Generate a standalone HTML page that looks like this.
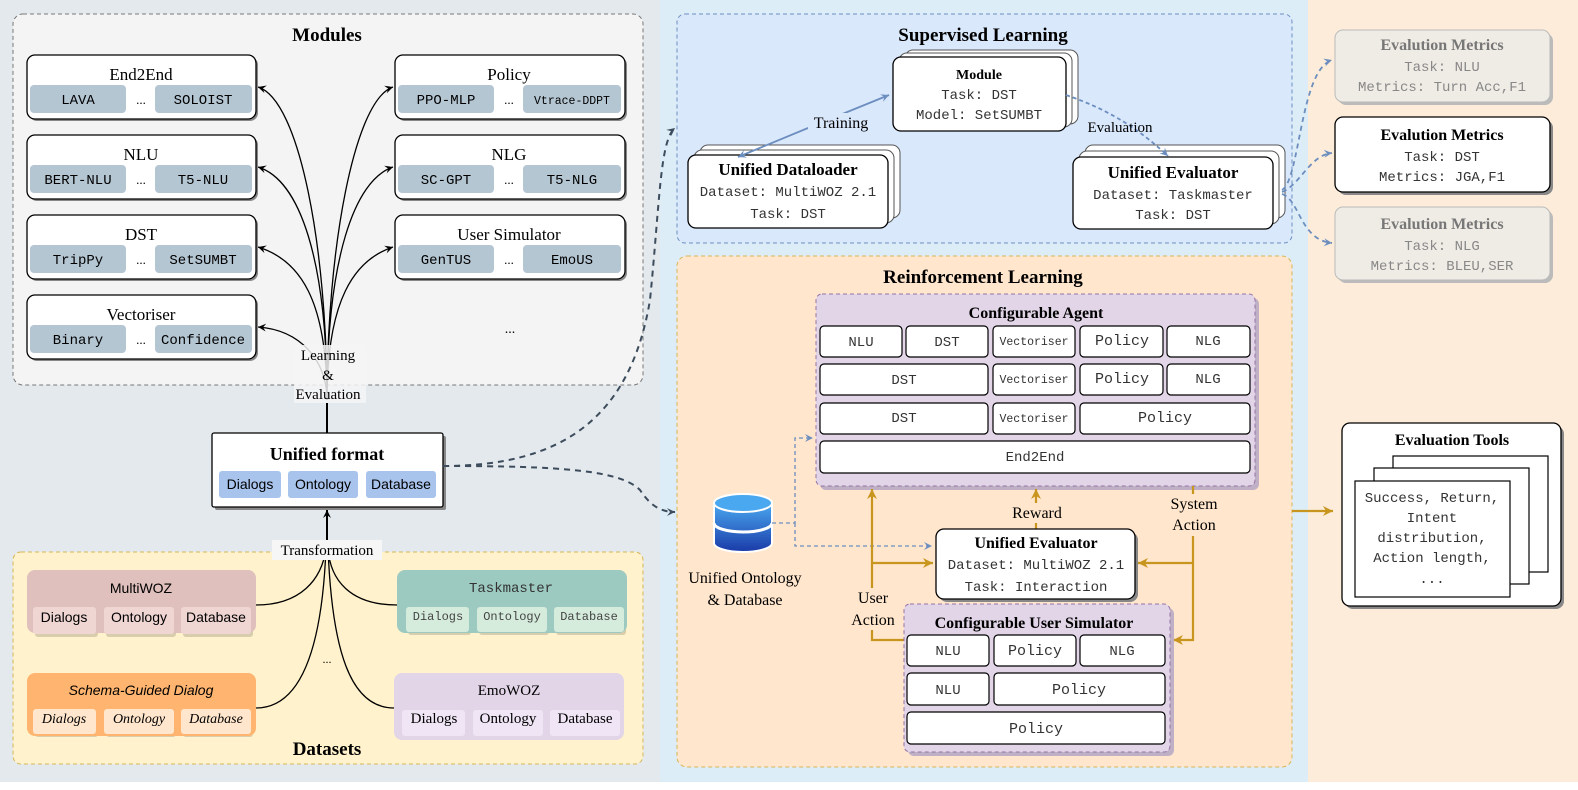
<!DOCTYPE html>
<html><head><meta charset="utf-8">
<style>
html,body{margin:0;padding:0;background:#fff}
svg{display:block}
.s{font-family:"Liberation Serif",serif}
.b{font-weight:bold}
.m{font-family:"Liberation Mono",monospace}
.a{font-family:"Liberation Sans",sans-serif}
</style></head><body>
<svg width="1578" height="790" viewBox="0 0 1578 790" xmlns="http://www.w3.org/2000/svg">
<defs>
<marker id="ak" markerWidth="10" markerHeight="10" refX="8" refY="5" orient="auto" markerUnits="userSpaceOnUse"><path d="M0,1 L8,5 L0,9 L3,5 Z" fill="#000"/></marker>
<marker id="ab" markerWidth="10" markerHeight="10" refX="8" refY="5" orient="auto" markerUnits="userSpaceOnUse"><path d="M0,1 L8,5 L0,9 L3,5 Z" fill="#6c8ebf"/></marker>
<marker id="ag" markerWidth="12" markerHeight="12" refX="10" refY="6" orient="auto" markerUnits="userSpaceOnUse"><path d="M0,1 L10,6 L0,11 L3,6 Z" fill="#c8961e"/></marker>
<marker id="ad" markerWidth="10" markerHeight="10" refX="8" refY="5" orient="auto" markerUnits="userSpaceOnUse"><path d="M0,1 L8,5 L0,9 L3,5 Z" fill="#3c4c5c"/></marker>
<linearGradient id="cy" x1="0" y1="0" x2="0" y2="1"><stop offset="0" stop-color="#4aa8f0"/><stop offset="1" stop-color="#1a3aa8"/></linearGradient>
</defs>
<rect x="0" y="0" width="660" height="782" fill="#e4e9ed"/>
<rect x="660" y="0" width="648" height="782" fill="#ddedf7"/>
<rect x="1308" y="0" width="270" height="782" fill="#fcecd9"/>

<rect x="13" y="14" width="630" height="371" rx="10" fill="#f4f4f4" stroke="#777" stroke-dasharray="4,3"/>
<text x="327" y="41" class="s b" font-size="19" text-anchor="middle">Modules</text>
<g stroke="#000" stroke-width="1.3" fill="none" marker-end="url(#ak)">
<path d="M327,400 C327,250 300,100 258,87"/>
<path d="M327,400 C327,260 300,180 258,167"/>
<path d="M327,400 C327,300 300,260 258,247"/>
<path d="M327,400 C327,360 300,330 258,327"/>
<path d="M327,400 C327,250 354,100 393,87"/>
<path d="M327,400 C327,260 354,180 393,167"/>
<path d="M327,400 C327,300 354,260 393,247"/>
</g>
<g>
<rect x="29" y="57" width="229" height="64" rx="8" fill="#888"/>
<rect x="27" y="55" width="229" height="64" rx="8" fill="#fff" stroke="#000" stroke-width="1.3"/>
<text x="141" y="80" class="s" font-size="17" text-anchor="middle">End2End</text>
<rect x="30" y="85" width="96" height="28" rx="4" fill="#b5c6d3"/><text x="78" y="104" class="m" font-size="14" text-anchor="middle">LAVA</text>
<text x="141" y="104" class="s" font-size="13" text-anchor="middle">...</text>
<rect x="155" y="85" width="97" height="28" rx="4" fill="#b5c6d3"/><text x="203" y="104" class="m" font-size="14" text-anchor="middle">SOLOIST</text>
</g>
<g>
<rect x="29" y="137" width="229" height="64" rx="8" fill="#888"/>
<rect x="27" y="135" width="229" height="64" rx="8" fill="#fff" stroke="#000" stroke-width="1.3"/>
<text x="141" y="160" class="s" font-size="17" text-anchor="middle">NLU</text>
<rect x="30" y="165" width="96" height="28" rx="4" fill="#b5c6d3"/><text x="78" y="184" class="m" font-size="14" text-anchor="middle">BERT-NLU</text>
<text x="141" y="184" class="s" font-size="13" text-anchor="middle">...</text>
<rect x="155" y="165" width="97" height="28" rx="4" fill="#b5c6d3"/><text x="203" y="184" class="m" font-size="14" text-anchor="middle">T5-NLU</text>
</g>
<g>
<rect x="29" y="217" width="229" height="64" rx="8" fill="#888"/>
<rect x="27" y="215" width="229" height="64" rx="8" fill="#fff" stroke="#000" stroke-width="1.3"/>
<text x="141" y="240" class="s" font-size="17" text-anchor="middle">DST</text>
<rect x="30" y="245" width="96" height="28" rx="4" fill="#b5c6d3"/><text x="78" y="264" class="m" font-size="14" text-anchor="middle">TripPy</text>
<text x="141" y="264" class="s" font-size="13" text-anchor="middle">...</text>
<rect x="155" y="245" width="97" height="28" rx="4" fill="#b5c6d3"/><text x="203" y="264" class="m" font-size="14" text-anchor="middle">SetSUMBT</text>
</g>
<g>
<rect x="29" y="297" width="229" height="64" rx="8" fill="#888"/>
<rect x="27" y="295" width="229" height="64" rx="8" fill="#fff" stroke="#000" stroke-width="1.3"/>
<text x="141" y="320" class="s" font-size="17" text-anchor="middle">Vectoriser</text>
<rect x="30" y="325" width="96" height="28" rx="4" fill="#b5c6d3"/><text x="78" y="344" class="m" font-size="14" text-anchor="middle">Binary</text>
<text x="141" y="344" class="s" font-size="13" text-anchor="middle">...</text>
<rect x="155" y="325" width="97" height="28" rx="4" fill="#b5c6d3"/><text x="203" y="344" class="m" font-size="14" text-anchor="middle">Confidence</text>
</g>
<g>
<rect x="397" y="57" width="230" height="64" rx="8" fill="#888"/>
<rect x="395" y="55" width="230" height="64" rx="8" fill="#fff" stroke="#000" stroke-width="1.3"/>
<text x="509" y="80" class="s" font-size="17" text-anchor="middle">Policy</text>
<rect x="398" y="85" width="96" height="28" rx="4" fill="#b5c6d3"/><text x="446" y="104" class="m" font-size="14" text-anchor="middle">PPO-MLP</text>
<text x="509" y="104" class="s" font-size="13" text-anchor="middle">...</text>
<rect x="523" y="85" width="98" height="28" rx="4" fill="#b5c6d3"/><text x="572" y="104" class="m" font-size="11.5" text-anchor="middle">Vtrace-DDPT</text>
</g>
<g>
<rect x="397" y="137" width="230" height="64" rx="8" fill="#888"/>
<rect x="395" y="135" width="230" height="64" rx="8" fill="#fff" stroke="#000" stroke-width="1.3"/>
<text x="509" y="160" class="s" font-size="17" text-anchor="middle">NLG</text>
<rect x="398" y="165" width="96" height="28" rx="4" fill="#b5c6d3"/><text x="446" y="184" class="m" font-size="14" text-anchor="middle">SC-GPT</text>
<text x="509" y="184" class="s" font-size="13" text-anchor="middle">...</text>
<rect x="523" y="165" width="98" height="28" rx="4" fill="#b5c6d3"/><text x="572" y="184" class="m" font-size="14" text-anchor="middle">T5-NLG</text>
</g>
<g>
<rect x="397" y="217" width="230" height="64" rx="8" fill="#888"/>
<rect x="395" y="215" width="230" height="64" rx="8" fill="#fff" stroke="#000" stroke-width="1.3"/>
<text x="509" y="240" class="s" font-size="17" text-anchor="middle">User Simulator</text>
<rect x="398" y="245" width="96" height="28" rx="4" fill="#b5c6d3"/><text x="446" y="264" class="m" font-size="14" text-anchor="middle">GenTUS</text>
<text x="509" y="264" class="s" font-size="13" text-anchor="middle">...</text>
<rect x="523" y="245" width="98" height="28" rx="4" fill="#b5c6d3"/><text x="572" y="264" class="m" font-size="14" text-anchor="middle">EmoUS</text>
</g>
<text x="510" y="333" class="s" font-size="14" text-anchor="middle">...</text>
<rect x="294" y="345" width="72" height="58" fill="#f5f5f5" opacity="0.85"/>
<text x="328" y="360" class="s" font-size="15" text-anchor="middle">Learning</text>
<text x="328" y="380" class="s" font-size="15" text-anchor="middle">&amp;</text>
<text x="328" y="399" class="s" font-size="15" text-anchor="middle">Evaluation</text>
<line x1="327" y1="403" x2="327" y2="433" stroke="#000" stroke-width="2"/>

<rect x="215" y="436" width="231" height="74" rx="2" fill="#888"/>
<rect x="212" y="433" width="231" height="74" rx="2" fill="#fff" stroke="#000" stroke-width="1.3"/>
<text x="327" y="460" class="s b" font-size="18" text-anchor="middle">Unified format</text>
<rect x="219" y="471" width="62" height="27" rx="3" fill="#a9c4ec"/><text x="250" y="489" class="a" font-size="14" text-anchor="middle">Dialogs</text>
<rect x="288" y="471" width="70" height="27" rx="3" fill="#a9c4ec"/><text x="323" y="489" class="a" font-size="14" text-anchor="middle">Ontology</text>
<rect x="366" y="471" width="70" height="27" rx="3" fill="#a9c4ec"/><text x="401" y="489" class="a" font-size="14" text-anchor="middle">Database</text>

<rect x="13" y="552" width="630" height="212" rx="8" fill="#fff2cc" stroke="#d6b656" stroke-dasharray="4,3"/>
<g stroke="#000" stroke-width="1.3" fill="none">
<line x1="327" y1="548" x2="327" y2="510" stroke-width="2" marker-end="url(#ak)"/>
<path d="M256,605 C300,605 322,580 326,548"/>
<path d="M397,605 C350,605 330,580 328,548"/>
<path d="M256,708 C300,708 322,650 326,548"/>
<path d="M394,708 C350,708 332,650 328,548"/>
</g>
<rect x="272" y="540" width="110" height="20" fill="#f6f6f6"/>
<text x="327" y="555" class="s" font-size="15" text-anchor="middle">Transformation</text>
<text x="327" y="663" class="s" font-size="12" text-anchor="middle">...</text>
<text x="327" y="755" class="s b" font-size="19" text-anchor="middle">Datasets</text>
<g fill="#000" opacity=".15">
<rect x="35" y="610" width="63" height="27" rx="3"/><rect x="106" y="610" width="70" height="27" rx="3"/><rect x="183" y="610" width="70" height="27" rx="3"/>
<rect x="35" y="712" width="63" height="25" rx="3"/><rect x="106" y="712" width="70" height="25" rx="3"/><rect x="183" y="712" width="70" height="25" rx="3"/>
<rect x="408" y="610" width="63" height="25" rx="3"/><rect x="479" y="610" width="70" height="25" rx="3"/><rect x="556" y="610" width="70" height="25" rx="3"/>
<rect x="404" y="713" width="63" height="26" rx="3"/><rect x="475" y="713" width="70" height="26" rx="3"/><rect x="552" y="713" width="70" height="26" rx="3"/>
</g>
<rect x="27" y="570" width="229" height="63" rx="8" fill="#dfc0bd"/>
<text x="141" y="593" class="a" font-size="14" text-anchor="middle">MultiWOZ</text>
<rect x="33" y="607" width="63" height="27" rx="3" fill="#f0d6d3"/><text x="64" y="622" class="a" font-size="14" text-anchor="middle">Dialogs</text>
<rect x="104" y="607" width="70" height="27" rx="3" fill="#f0d6d3"/><text x="139" y="622" class="a" font-size="14" text-anchor="middle">Ontology</text>
<rect x="181" y="607" width="70" height="27" rx="3" fill="#f0d6d3"/><text x="216" y="622" class="a" font-size="14" text-anchor="middle">Database</text>
<rect x="397" y="570" width="230" height="63" rx="8" fill="#9dcac0"/>
<text x="511" y="592" class="m" font-size="14" fill="#333" text-anchor="middle">Taskmaster</text>
<rect x="406" y="607" width="63" height="25" rx="3" fill="#d5ebdc"/><text x="438" y="620" class="m" font-size="12" fill="#444" text-anchor="middle">Dialogs</text>
<rect x="477" y="607" width="70" height="25" rx="3" fill="#d5ebdc"/><text x="512" y="620" class="m" font-size="12" fill="#444" text-anchor="middle">Ontology</text>
<rect x="554" y="607" width="70" height="25" rx="3" fill="#d5ebdc"/><text x="589" y="620" class="m" font-size="12" fill="#444" text-anchor="middle">Database</text>
<rect x="27" y="673" width="229" height="63" rx="8" fill="#ffb570"/>
<text x="141" y="695" class="a" font-size="14" font-style="italic" text-anchor="middle">Schema-Guided Dialog</text>
<rect x="33" y="709" width="63" height="25" rx="3" fill="#ffe6cc"/><text x="64" y="723" class="s" font-size="14" font-style="italic" text-anchor="middle">Dialogs</text>
<rect x="104" y="709" width="70" height="25" rx="3" fill="#ffe6cc"/><text x="139" y="723" class="s" font-size="14" font-style="italic" text-anchor="middle">Ontology</text>
<rect x="181" y="709" width="70" height="25" rx="3" fill="#ffe6cc"/><text x="216" y="723" class="s" font-size="14" font-style="italic" text-anchor="middle">Database</text>
<rect x="394" y="673" width="230" height="67" rx="8" fill="#e1d5e7"/>
<text x="509" y="695" class="s" font-size="15" text-anchor="middle">EmoWOZ</text>
<rect x="402" y="710" width="63" height="26" rx="3" fill="#efe5f5"/><text x="434" y="723" class="s" font-size="15" text-anchor="middle">Dialogs</text>
<rect x="473" y="710" width="70" height="26" rx="3" fill="#efe5f5"/><text x="508" y="723" class="s" font-size="15" text-anchor="middle">Ontology</text>
<rect x="550" y="710" width="70" height="26" rx="3" fill="#efe5f5"/><text x="585" y="723" class="s" font-size="15" text-anchor="middle">Database</text>

<g stroke="#3c4c5c" stroke-width="2" fill="none" stroke-dasharray="6,5">
<path d="M443,466 C560,466 630,420 650,300 C660,200 660,140 675,128" marker-end="url(#ad)"/>
<path d="M443,466 C560,466 620,470 640,490 C650,505 660,512 675,512" marker-end="url(#ad)"/>
</g>

<rect x="677" y="14" width="615" height="229" rx="8" fill="#dae8fc" stroke="#6c8ebf" stroke-dasharray="4,3"/>
<text x="983" y="41" class="s b" font-size="19" text-anchor="middle">Supervised Learning</text>
<g fill="#fff" stroke="#555">
<rect x="905" y="50" width="173" height="74" rx="8"/>
<rect x="899" y="53" width="173" height="74" rx="8"/>
<rect x="700" y="145" width="200" height="73" rx="8"/>
<rect x="694" y="150" width="200" height="73" rx="8"/>
<rect x="1085" y="145" width="200" height="73" rx="8"/>
<rect x="1079" y="151" width="200" height="73" rx="8"/>
</g>
<rect x="893" y="57" width="173" height="74" rx="8" fill="#fff" stroke="#000" stroke-width="1.3"/>
<text x="979" y="79" class="s b" font-size="14" text-anchor="middle">Module</text>
<text x="979" y="99" class="m" font-size="14" fill="#333" text-anchor="middle">Task: DST</text>
<text x="979" y="119" class="m" font-size="14" fill="#333" text-anchor="middle">Model: SetSUMBT</text>
<rect x="688" y="155" width="200" height="73" rx="8" fill="#fff" stroke="#000" stroke-width="1.3"/>
<text x="788" y="175" class="s b" font-size="17" text-anchor="middle">Unified Dataloader</text>
<text x="788" y="196" class="m" font-size="14" fill="#333" text-anchor="middle">Dataset: MultiWOZ 2.1</text>
<text x="788" y="218" class="m" font-size="14" fill="#333" text-anchor="middle">Task: DST</text>
<rect x="1073" y="157" width="200" height="72" rx="8" fill="#fff" stroke="#000" stroke-width="1.3"/>
<text x="1173" y="178" class="s b" font-size="17" text-anchor="middle">Unified Evaluator</text>
<text x="1173" y="199" class="m" font-size="14" fill="#333" text-anchor="middle">Dataset: Taskmaster</text>
<text x="1173" y="219" class="m" font-size="14" fill="#333" text-anchor="middle">Task: DST</text>
<g stroke="#6c8ebf" stroke-width="1.8" fill="none">
<line x1="808" y1="128" x2="889" y2="95" marker-end="url(#ab)"/>
<line x1="808" y1="128" x2="738" y2="157" marker-end="url(#ab)"/>
<path d="M1066,95 C1110,110 1140,130 1168,156" stroke-dasharray="4,3" marker-end="url(#ab)"/>
<path d="M1282,190 C1300,180 1300,70 1332,60" stroke-dasharray="5,4" marker-end="url(#ab)"/>
<path d="M1282,192 C1300,185 1310,155 1332,153" stroke-dasharray="5,4" marker-end="url(#ab)"/>
<path d="M1282,194 C1300,200 1300,240 1332,243" stroke-dasharray="5,4" marker-end="url(#ab)"/>
</g>
<rect x="808" y="113" width="66" height="20" fill="#dae8fc"/>
<text x="841" y="128" class="s" font-size="16" text-anchor="middle">Training</text>
<text x="1120" y="132" class="s" font-size="15" text-anchor="middle">Evaluation</text>

<rect x="677" y="256" width="615" height="511" rx="10" fill="#ffe6cc" stroke="#d6b656" stroke-dasharray="4,3"/>
<text x="983" y="283" class="s b" font-size="19" text-anchor="middle">Reinforcement Learning</text>
<rect x="820" y="298" width="439" height="192" rx="6" fill="#bfb0c5"/>
<rect x="816" y="294" width="439" height="192" rx="6" fill="#e1d5e7" stroke="#9673a6" stroke-dasharray="4,3"/>
<text x="1036" y="318" class="s b" font-size="16" text-anchor="middle">Configurable Agent</text>
<g fill="#fff" stroke="#000" stroke-width="1.2">
<rect x="820" y="326" width="82" height="31" rx="4"/><rect x="906" y="326" width="82" height="31" rx="4"/><rect x="993" y="326" width="82" height="31" rx="4"/><rect x="1080" y="326" width="83" height="31" rx="4"/><rect x="1167" y="326" width="83" height="31" rx="4"/>
<rect x="820" y="364" width="168" height="31" rx="4"/><rect x="993" y="364" width="82" height="31" rx="4"/><rect x="1080" y="364" width="83" height="31" rx="4"/><rect x="1167" y="364" width="83" height="31" rx="4"/>
<rect x="820" y="403" width="168" height="31" rx="4"/><rect x="993" y="403" width="82" height="31" rx="4"/><rect x="1080" y="403" width="170" height="31" rx="4"/>
<rect x="820" y="441" width="430" height="32" rx="4"/>
</g>
<g class="m" font-size="14" fill="#333" text-anchor="middle">
<text x="861" y="346">NLU</text><text x="947" y="346">DST</text><text x="1034" y="345" font-size="11.5">Vectoriser</text><text x="1122" y="345" font-size="15">Policy</text><text x="1208" y="345">NLG</text>
<text x="904" y="384">DST</text><text x="1034" y="383" font-size="11.5">Vectoriser</text><text x="1122" y="383" font-size="15">Policy</text><text x="1208" y="383">NLG</text>
<text x="904" y="422">DST</text><text x="1034" y="422" font-size="11.5">Vectoriser</text><text x="1165" y="422" font-size="15">Policy</text>
<text x="1035" y="461">End2End</text>
</g>
<g>
<path d="M714,503 v40 a29,9 0 0 0 58,0 v-40" fill="url(#cy)" stroke="#fff" stroke-width="2"/>
<path d="M714,523 a29,9 0 0 0 58,0" fill="none" stroke="#fff" stroke-width="3"/>
<ellipse cx="743" cy="503" rx="29" ry="9" fill="#4aa8f0" stroke="#fff" stroke-width="2"/>
</g>
<text x="745" y="583" class="s" font-size="16" text-anchor="middle">Unified Ontology</text>
<text x="745" y="605" class="s" font-size="16" text-anchor="middle">&amp; Database</text>
<g stroke="#6c8ebf" stroke-width="1.3" fill="none" stroke-dasharray="4,3">
<path d="M772,523 H795 V438 H813" marker-end="url(#ab)"/>
<path d="M795,523 V546 H932" marker-end="url(#ab)"/>
</g>
<g stroke="#c8961e" stroke-width="2.2" fill="none">
<path d="M904,640 H872 V489" marker-end="url(#ag)"/>
<path d="M872,563 H933" marker-end="url(#ag)"/>
<path d="M1036,529 V489" marker-end="url(#ag)"/>
<path d="M1193,486 V640 H1173" marker-end="url(#ag)"/>
<path d="M1193,563 H1138" marker-end="url(#ag)"/>
<path d="M1292,511 H1333" marker-end="url(#ag)"/>
</g>
<rect x="1010" y="503" width="54" height="20" fill="#ffe6cc"/>
<text x="1037" y="518" class="s" font-size="16" text-anchor="middle">Reward</text>
<rect x="1165" y="494" width="58" height="42" fill="#ffe6cc"/>
<text x="1194" y="509" class="s" font-size="16" text-anchor="middle">System</text>
<text x="1194" y="530" class="s" font-size="16" text-anchor="middle">Action</text>
<rect x="846" y="588" width="52" height="42" fill="#ffe6cc"/>
<text x="873" y="603" class="s" font-size="16" text-anchor="middle">User</text>
<text x="873" y="625" class="s" font-size="16" text-anchor="middle">Action</text>
<rect x="939" y="532" width="199" height="70" rx="8" fill="#888"/>
<rect x="936" y="529" width="199" height="70" rx="8" fill="#fff" stroke="#000" stroke-width="1.3"/>
<text x="1036" y="548" class="s b" font-size="16" text-anchor="middle">Unified Evaluator</text>
<text x="1036" y="569" class="m" font-size="14" fill="#333" text-anchor="middle">Dataset: MultiWOZ 2.1</text>
<text x="1036" y="591" class="m" font-size="14" fill="#333" text-anchor="middle">Task: Interaction</text>
<rect x="908" y="608" width="266" height="148" rx="6" fill="#bfb0c5"/>
<rect x="904" y="604" width="266" height="148" rx="6" fill="#e1d5e7" stroke="#9673a6" stroke-dasharray="4,3"/>
<text x="1034" y="628" class="s b" font-size="16" text-anchor="middle">Configurable User Simulator</text>
<g fill="#fff" stroke="#000" stroke-width="1.2">
<rect x="907" y="635" width="82" height="31" rx="4"/><rect x="994" y="635" width="82" height="31" rx="4"/><rect x="1080" y="635" width="85" height="31" rx="4"/>
<rect x="907" y="673" width="82" height="32" rx="4"/><rect x="994" y="673" width="171" height="32" rx="4"/>
<rect x="907" y="712" width="258" height="32" rx="4"/>
</g>
<g class="m" font-size="14" fill="#333" text-anchor="middle">
<text x="948" y="655">NLU</text><text x="1035" y="655" font-size="15">Policy</text><text x="1122" y="655">NLG</text>
<text x="948" y="694">NLU</text><text x="1079" y="694" font-size="15">Policy</text>
<text x="1036" y="733" font-size="15">Policy</text>
</g>

<rect x="1338" y="33" width="215" height="72" rx="8" fill="#bbb"/>
<rect x="1335" y="30" width="215" height="72" rx="8" fill="#efebe5" stroke="#bbb"/>
<text x="1442" y="50" class="s b" font-size="16" fill="#777" text-anchor="middle">Evalution Metrics</text>
<text x="1442" y="71" class="m" font-size="14" fill="#888" text-anchor="middle">Task: NLU</text>
<text x="1442" y="91" class="m" font-size="14" fill="#888" text-anchor="middle">Metrics: Turn Acc,F1</text>
<rect x="1338" y="120" width="215" height="75" rx="8" fill="#888"/>
<rect x="1335" y="117" width="215" height="75" rx="8" fill="#fff" stroke="#000" stroke-width="1.3"/>
<text x="1442" y="140" class="s b" font-size="16" text-anchor="middle">Evalution Metrics</text>
<text x="1442" y="161" class="m" font-size="14" fill="#333" text-anchor="middle">Task: DST</text>
<text x="1442" y="181" class="m" font-size="14" fill="#333" text-anchor="middle">Metrics: JGA,F1</text>
<rect x="1338" y="210" width="215" height="73" rx="8" fill="#bbb"/>
<rect x="1335" y="207" width="215" height="73" rx="8" fill="#efebe5" stroke="#bbb"/>
<text x="1442" y="229" class="s b" font-size="16" fill="#777" text-anchor="middle">Evalution Metrics</text>
<text x="1442" y="250" class="m" font-size="14" fill="#888" text-anchor="middle">Task: NLG</text>
<text x="1442" y="270" class="m" font-size="14" fill="#888" text-anchor="middle">Metrics: BLEU,SER</text>

<rect x="1345" y="426" width="219" height="183" rx="8" fill="#888"/>
<rect x="1342" y="423" width="219" height="183" rx="8" fill="#fff" stroke="#000" stroke-width="1.3"/>
<text x="1452" y="445" class="s b" font-size="16" text-anchor="middle">Evaluation Tools</text>
<g fill="#fff" stroke="#000" stroke-width="1.2">
<rect x="1393" y="456" width="155" height="116"/>
<rect x="1374" y="468" width="155" height="116"/>
<rect x="1355" y="481" width="155" height="116"/>
</g>
<g class="m" font-size="14" fill="#333" text-anchor="middle">
<text x="1432" y="502">Success, Return,</text>
<text x="1432" y="522">Intent</text>
<text x="1432" y="542">distribution,</text>
<text x="1432" y="562">Action length,</text>
<text x="1432" y="583">...</text>
</g>
</svg>
</body></html>
